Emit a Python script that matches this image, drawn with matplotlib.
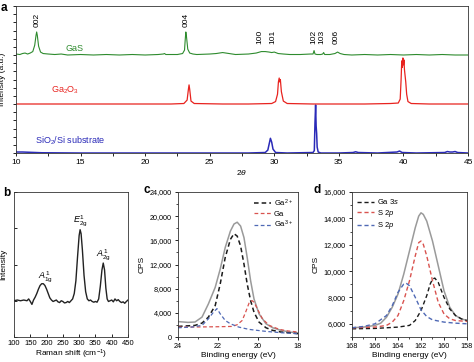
import numpy as np
import matplotlib
matplotlib.use('Agg')
import matplotlib.pyplot as plt
from matplotlib.ticker import MultipleLocator, FuncFormatter

plt.rcParams['font.family'] = ['Liberation Sans', 'DejaVu Sans']
plt.rcParams['mathtext.fontset'] = 'custom'
plt.rcParams['mathtext.rm'] = 'Liberation Sans'
plt.rcParams['mathtext.it'] = 'Liberation Sans:italic'

# ---- panel a: XRD (intensity above each trace's baseline) ----
gas_x = [10, 10.3, 10.5, 10.7, 10.9, 11.1, 11.3, 11.45, 11.55, 11.6, 11.65, 11.75, 11.9, 12.1, 12.5,
         13, 13.5, 14, 15, 16, 17, 18, 19, 20, 21, 21.4, 21.5, 21.6, 22, 22.5, 22.9, 23.05,
         23.1, 23.15, 23.2, 23.3, 23.45, 23.7, 24, 25, 25.5, 26, 26.5, 27, 28, 28.6, 29, 29.3,
         29.6, 29.8, 30.0, 30.3, 30.7, 31.2, 32, 32.8, 33.0, 33.08, 33.15, 33.3, 33.6, 33.75,
         33.82, 33.9, 34.3, 34.7, 34.9, 35.1, 35.4, 36, 37, 38, 39, 40, 41, 42, 43, 44, 45]
gas_y = [0.02, 0.01, 0.03, 0.04, 0.02, 0.04, 0.07, 0.2, 0.4, 0.47, 0.4, 0.18, 0.06, 0.03, 0.02,
         0.01, 0.02, 0.0, 0.01, 0.0, 0.01, 0.0, 0.01, 0.0, 0.01, 0.02, 0.03, 0.01, 0.01, 0.01, 0.03, 0.1,
         0.3, 0.47, 0.38, 0.12, 0.04, 0.02, 0.01, 0.02, 0.03, 0.05, 0.03, 0.01, 0.02, 0.04, 0.07, 0.07,
         0.06, 0.05, 0.06, 0.03, 0.02, 0.01, 0.01, 0.02, 0.02, 0.09, 0.02, 0.01, 0.01, 0.02,
         0.05, 0.01, 0.01, 0.03, 0.06, 0.03, 0.01, 0.0, 0.01, 0.0, 0.01, 0.0, 0.01, 0.0, 0.01, 0.0, 0.0]

ga2o3_x = [10, 12, 15, 18, 20, 22, 23.0, 23.25, 23.35, 23.4, 23.45, 23.55, 23.8, 26, 28, 29.8, 30.1,
           30.25, 30.32, 30.38, 30.42, 30.47, 30.55, 30.7, 31.0, 33, 35, 37, 39, 39.6, 39.75, 39.82,
           39.87, 39.92, 39.96, 40.0, 40.04, 40.08, 40.12, 40.18, 40.25, 40.35, 40.6, 42, 44, 45]
ga2o3_y = [0.0, 0.0, 0.0, 0.0, 0.0, 0.0, 0.01, 0.08, 0.3, 0.39, 0.3, 0.06, 0.01, 0.0, 0.0, 0.01, 0.05,
           0.2, 0.45, 0.53, 0.45, 0.5, 0.25, 0.06, 0.01, 0.0, 0.0, 0.0, 0.01, 0.02, 0.1, 0.5,
           0.88, 0.75, 0.94, 0.8, 0.9, 0.7, 0.6, 0.45, 0.2, 0.05, 0.01, 0.0, 0.0, 0.0]

sio2_x = [10, 10.5, 11, 11.5, 12, 15, 20, 25, 28, 29.3, 29.5, 29.6, 29.7, 29.8, 29.9, 30.1, 31,
          33.0, 33.1, 33.15, 33.2, 33.24, 33.28, 33.32, 33.4, 33.6, 35, 36.1, 36.3, 36.5, 38,
          39.5, 39.7, 39.9, 41, 43.2, 43.4, 43.6, 43.8, 44.0, 44.2, 45]
sio2_y = [0.02, 0.02, 0.015, 0.01, 0.005, 0.0, 0.0, 0.0, 0.0, 0.01, 0.06, 0.18, 0.3, 0.22, 0.08, 0.01, 0.0,
          0.01, 0.05, 0.6, 0.98, 0.55, 0.4, 0.12, 0.02, 0.0, 0.0, 0.01, 0.025, 0.01, 0.0,
          0.02, 0.04, 0.01, 0.0, 0.01, 0.03, 0.02, 0.02, 0.03, 0.01, 0.0]

gas_peaks = ['002', '004', '100', '101', '102', '103', '006']
gas_peak_pos = [11.6, 23.15, 28.9, 29.9, 33.08, 33.72, 34.75]

# ---- panel b: Raman ----
raman_x = [100, 110, 120, 130, 140, 145, 150, 155, 160, 165, 170, 175, 180, 185, 190, 195, 200,
           205, 210, 215, 220, 225, 230, 235, 240, 245, 250, 255, 260, 265, 270, 275, 280, 285,
           290, 295, 300, 303, 306, 310, 315, 320, 325, 330, 335, 340, 345, 350, 355, 360, 365,
           370, 374, 378, 382, 386, 390, 395, 400, 405, 410, 415, 420, 425, 430, 435, 440, 445, 450]
raman_y = [1.0, 1.02, 1.0, 1.02, 1.0, 1.05, 0.98, 0.9, 1.02, 1.1, 1.2, 1.32, 1.42, 1.47, 1.47, 1.42, 1.32,
           1.2, 1.08, 1.02, 0.98, 1.0, 1.02, 0.97, 0.95, 1.0, 0.98, 0.94, 0.95, 0.98, 0.95, 1.0, 1.05, 1.2,
           1.55, 2.2, 2.8, 2.96, 2.85, 2.4, 1.7, 1.25, 1.05, 1.0, 1.02, 0.98, 0.96, 0.98, 0.96, 1.05, 1.4,
           1.85, 2.04, 1.85, 1.35, 1.05, 0.98, 1.0, 1.02, 0.97, 1.05, 1.0, 1.03, 0.98, 0.95, 0.97, 0.93, 0.98, 1.02]

# ---- panel c: Ga 3d XPS ----
c_env_x = [24, 23.5, 23.15, 22.8, 22.48, 22.14, 21.89, 21.64, 21.38, 21.2, 21.04, 20.87, 20.7, 20.54,
           20.37, 20.2, 19.95, 19.6, 19.27, 18.85, 18.42, 18]
c_env_y = [2550, 2420, 2480, 3290, 5480, 8220, 11230, 14800, 17530, 18700, 19000, 18360, 16440, 13150,
           9320, 6300, 3840, 2190, 1530, 1100, 820, 660]
c_ga2_x = [24, 23.15, 22.8, 22.48, 22.14, 21.89, 21.64, 21.38, 21.2, 21.04, 20.87, 20.7, 20.54, 20.37,
           20.2, 19.95, 19.6, 19.27, 18.85, 18]
c_ga2_y = [1750, 1920, 2300, 3290, 5200, 8770, 13150, 16160, 17100, 16700, 15070, 12050, 8770, 6030,
           4110, 2470, 1530, 1100, 820, 550]
c_ga_x = [24, 23, 22, 21.3, 21.04, 20.79, 20.62, 20.45, 20.3, 20.2, 20.03, 19.78, 19.44, 18.93, 18.5, 18]
c_ga_y = [1640, 1660, 1700, 1750, 2030, 2740, 4100, 5590, 6030, 5750, 4660, 3010, 1920, 1260, 1000, 820]
c_ga3_x = [24, 23.3, 22.8, 22.48, 22.23, 22.05, 21.89, 21.64, 21.38, 20.96, 20.45, 19.6, 18.85, 18]
c_ga3_y = [1530, 1650, 1920, 3010, 4100, 4700, 3840, 2740, 2190, 1640, 1260, 930, 710, 550]

# ---- panel d: Ga 3s / S 2p XPS ----
d_env_x = [168, 167, 166, 165.5, 165, 164.5, 164, 163.5, 163, 162.5, 162.2, 162, 161.8, 161.5, 161,
           160.5, 160, 159.5, 159, 158.5, 158]
d_env_y = [5700, 5750, 5880, 6050, 6500, 7260, 8260, 9770, 11530, 13290, 14170, 14420, 14300, 13790,
           12280, 10400, 8510, 7260, 6630, 6380, 6250]
d_ga3s_x = [168, 166, 164, 163, 162.5, 162, 161.5, 161.2, 161, 160.8, 160.5, 160, 159.5, 159, 158.5, 158]
d_ga3s_y = [5620, 5650, 5750, 5880, 6250, 7000, 8140, 9020, 9390, 9470, 9140, 8010, 7130, 6630, 6380, 6250]
d_s2p1_x = [168, 166, 165, 164.5, 164, 163.5, 163, 162.5, 162.2, 162, 161.8, 161.5, 161, 160.5, 160,
            159.5, 159, 158]
d_s2p1_y = [5700, 5750, 5880, 6130, 6630, 7760, 9270, 11150, 12160, 12280, 12030, 11150, 9270, 7630,
            6750, 6380, 6250, 6180]
d_s2p2_x = [168, 167, 166, 165, 164.5, 164, 163.5, 163.3, 163, 162.5, 162, 161.5, 161, 160, 159, 158]
d_s2p2_y = [5700, 5800, 6000, 6630, 7380, 8390, 9020, 9090, 8890, 8010, 7060, 6550, 6300, 6130, 6050, 6000]

W, H = 474, 362
fig = plt.figure(figsize=(W / 100, H / 100), dpi=100)

def px_axes(left, top, right, bottom):
    return fig.add_axes([left / W, 1 - bottom / H, (right - left) / W, (bottom - top) / H])

def thin_spines(ax):
    for s in ax.spines.values():
        s.set_linewidth(0.6)
        s.set_color('#333333')

fs = 6
green, red, blue = '#2e8b2e', '#e8231f', '#2a2ab8'
grey = '#9a9a9a'
dred = '#d9534f'
dblue = '#4f69b5'

# ---------- a ----------
ax = px_axes(16, 6, 468, 153)
ax.plot(sio2_x, np.array(sio2_y), color=blue, lw=1.1)
ax.plot(ga2o3_x, np.array(ga2o3_y) + 1, color=red, lw=0.9)
ax.plot(gas_x, np.array(gas_y) + 2, color=green, lw=0.8)
ax.set_xlim(10, 45)
ax.set_ylim(0, 3)
ax.xaxis.set_major_locator(MultipleLocator(5))
ax.xaxis.set_minor_locator(MultipleLocator(2.5))
ax.yaxis.set_major_locator(MultipleLocator(1 / 6))
ax.set_yticklabels([])
ax.tick_params(axis='both', direction='out', length=2.5, width=0.6, labelsize=fs, pad=2)
ax.tick_params(axis='x', which='minor', direction='out', length=2, width=0.6)
ax.set_xlabel(r'2$\it{\theta}$', fontsize=fs, labelpad=1)
ax.set_ylabel('Intensity (a.u.)', fontsize=fs, labelpad=3)
for name, pos in zip(gas_peaks, gas_peak_pos):
    yy = 2.72 if name in ('002', '004') else 2.36
    ax.text(pos, yy, name, rotation=90, fontsize=6, ha='center', va='center')
ax.text(14.5, 2.14, 'GaS', color=green, fontsize=6.5, ha='center', va='center')
ax.text(13.8, 1.28, r'Ga$_2$O$_3$', color=red, fontsize=6.5, ha='center', va='center')
ax.text(11.5, 0.25, r'SiO$_2$/Si substrate', color=blue, fontsize=6.5, ha='left', va='center')
thin_spines(ax)

# ---------- b ----------
ax = px_axes(14, 192, 128, 337)
ax.plot(raman_x, raman_y, color='#222222', lw=1.0)
ax.set_xlim(100, 450)
ax.set_ylim(0, 4)
ax.xaxis.set_major_locator(MultipleLocator(50))
ax.yaxis.set_major_locator(MultipleLocator(1))
ax.set_yticklabels([])
ax.tick_params(axis='both', direction='in', length=2.5, width=0.6, labelsize=5.5, pad=2)
ax.set_xlabel('Raman shift (cm$^{-1}$)', fontsize=fs, labelpad=1)
ax.set_ylabel('Intensity', fontsize=fs, labelpad=3)
ax.text(196, 1.66, r'$\mathit{A}^{1}_{1\mathrm{g}}$', fontsize=6.5, ha='center', va='center')
ax.text(303, 3.2, r'$\mathit{E}^{1}_{2\mathrm{g}}$', fontsize=6.5, ha='center', va='center')
ax.text(376, 2.28, r'$\mathit{A}^{1}_{2\mathrm{g}}$', fontsize=6.5, ha='center', va='center')
thin_spines(ax)

comma = FuncFormatter(lambda v, p: f'{int(round(v)):,}')

# ---------- c ----------
ax = px_axes(178, 192, 298, 337)
ax.plot(c_env_x, c_env_y, color=grey, lw=1.1)
ax.plot(c_ga2_x, c_ga2_y, color='#1a1a1a', lw=1.1, ls=(0, (3, 2)), label='Ga$^{2+}$')
ax.plot(c_ga_x, c_ga_y, color=dred, lw=0.9, ls=(0, (3, 2)), label='Ga')
ax.plot(c_ga3_x, c_ga3_y, color=dblue, lw=0.9, ls=(0, (3, 2)), label='Ga$^{3+}$')
ax.set_xlim(24, 18)
ax.set_ylim(0, 24000)
ax.xaxis.set_major_locator(MultipleLocator(2))
ax.xaxis.set_minor_locator(MultipleLocator(1))
ax.yaxis.set_major_locator(MultipleLocator(4000))
ax.yaxis.set_minor_locator(MultipleLocator(2000))
ax.yaxis.set_major_formatter(comma)
ax.tick_params(axis='both', which='major', direction='out', length=2.5, width=0.6, labelsize=5.2, pad=2)
ax.tick_params(axis='both', which='minor', direction='out', length=1.5, width=0.5)
ax.set_xlabel('Binding energy (eV)', fontsize=fs, labelpad=1)
ax.set_ylabel('CPS', fontsize=fs, labelpad=3)
ax.legend(loc='upper right', fontsize=5.5, frameon=False, handlelength=2.2, handletextpad=0.4,
          labelspacing=0.2, borderaxespad=0.3)
thin_spines(ax)

# ---------- d ----------
ax = px_axes(352, 192, 467, 337)
ax.plot(d_env_x, d_env_y, color=grey, lw=1.1)
ax.plot(d_ga3s_x, d_ga3s_y, color='#1a1a1a', lw=1.0, ls=(0, (3, 2)), label=r'Ga 3$\it{s}$')
ax.plot(d_s2p1_x, d_s2p1_y, color=dred, lw=1.0, ls=(0, (3, 2)), label=r'S 2$\it{p}$')
ax.plot(d_s2p2_x, d_s2p2_y, color=dblue, lw=1.0, ls=(0, (3, 2)), label=r'S 2$\it{p}$')
ax.set_xlim(168, 158)
ax.set_ylim(5000, 16000)
ax.xaxis.set_major_locator(MultipleLocator(2))
ax.xaxis.set_minor_locator(MultipleLocator(1))
ax.yaxis.set_major_locator(MultipleLocator(2000))
ax.yaxis.set_minor_locator(MultipleLocator(1000))
ax.yaxis.set_major_formatter(comma)
ax.tick_params(axis='both', which='major', direction='out', length=2.5, width=0.6, labelsize=5.2, pad=2)
ax.tick_params(axis='both', which='minor', direction='out', length=1.5, width=0.5)
ax.set_xlabel('Binding energy (eV)', fontsize=fs, labelpad=1)
ax.set_ylabel('CPS', fontsize=fs, labelpad=3)
ax.legend(loc='upper left', fontsize=5.5, frameon=False, handlelength=2.2, handletextpad=0.4,
          labelspacing=0.2, borderaxespad=0.3)
thin_spines(ax)

fig.text(1 / W, 1 - 8 / H, 'a', fontsize=8.5, fontweight='bold', va='center')
fig.text(3 / W, 1 - 193 / H, 'b', fontsize=8.5, fontweight='bold', va='center')
fig.text(144 / W, 1 - 190 / H, 'c', fontsize=8.5, fontweight='bold', va='center')
fig.text(314 / W, 1 - 190 / H, 'd', fontsize=8.5, fontweight='bold', va='center')

fig.savefig('out.png', dpi=100)
